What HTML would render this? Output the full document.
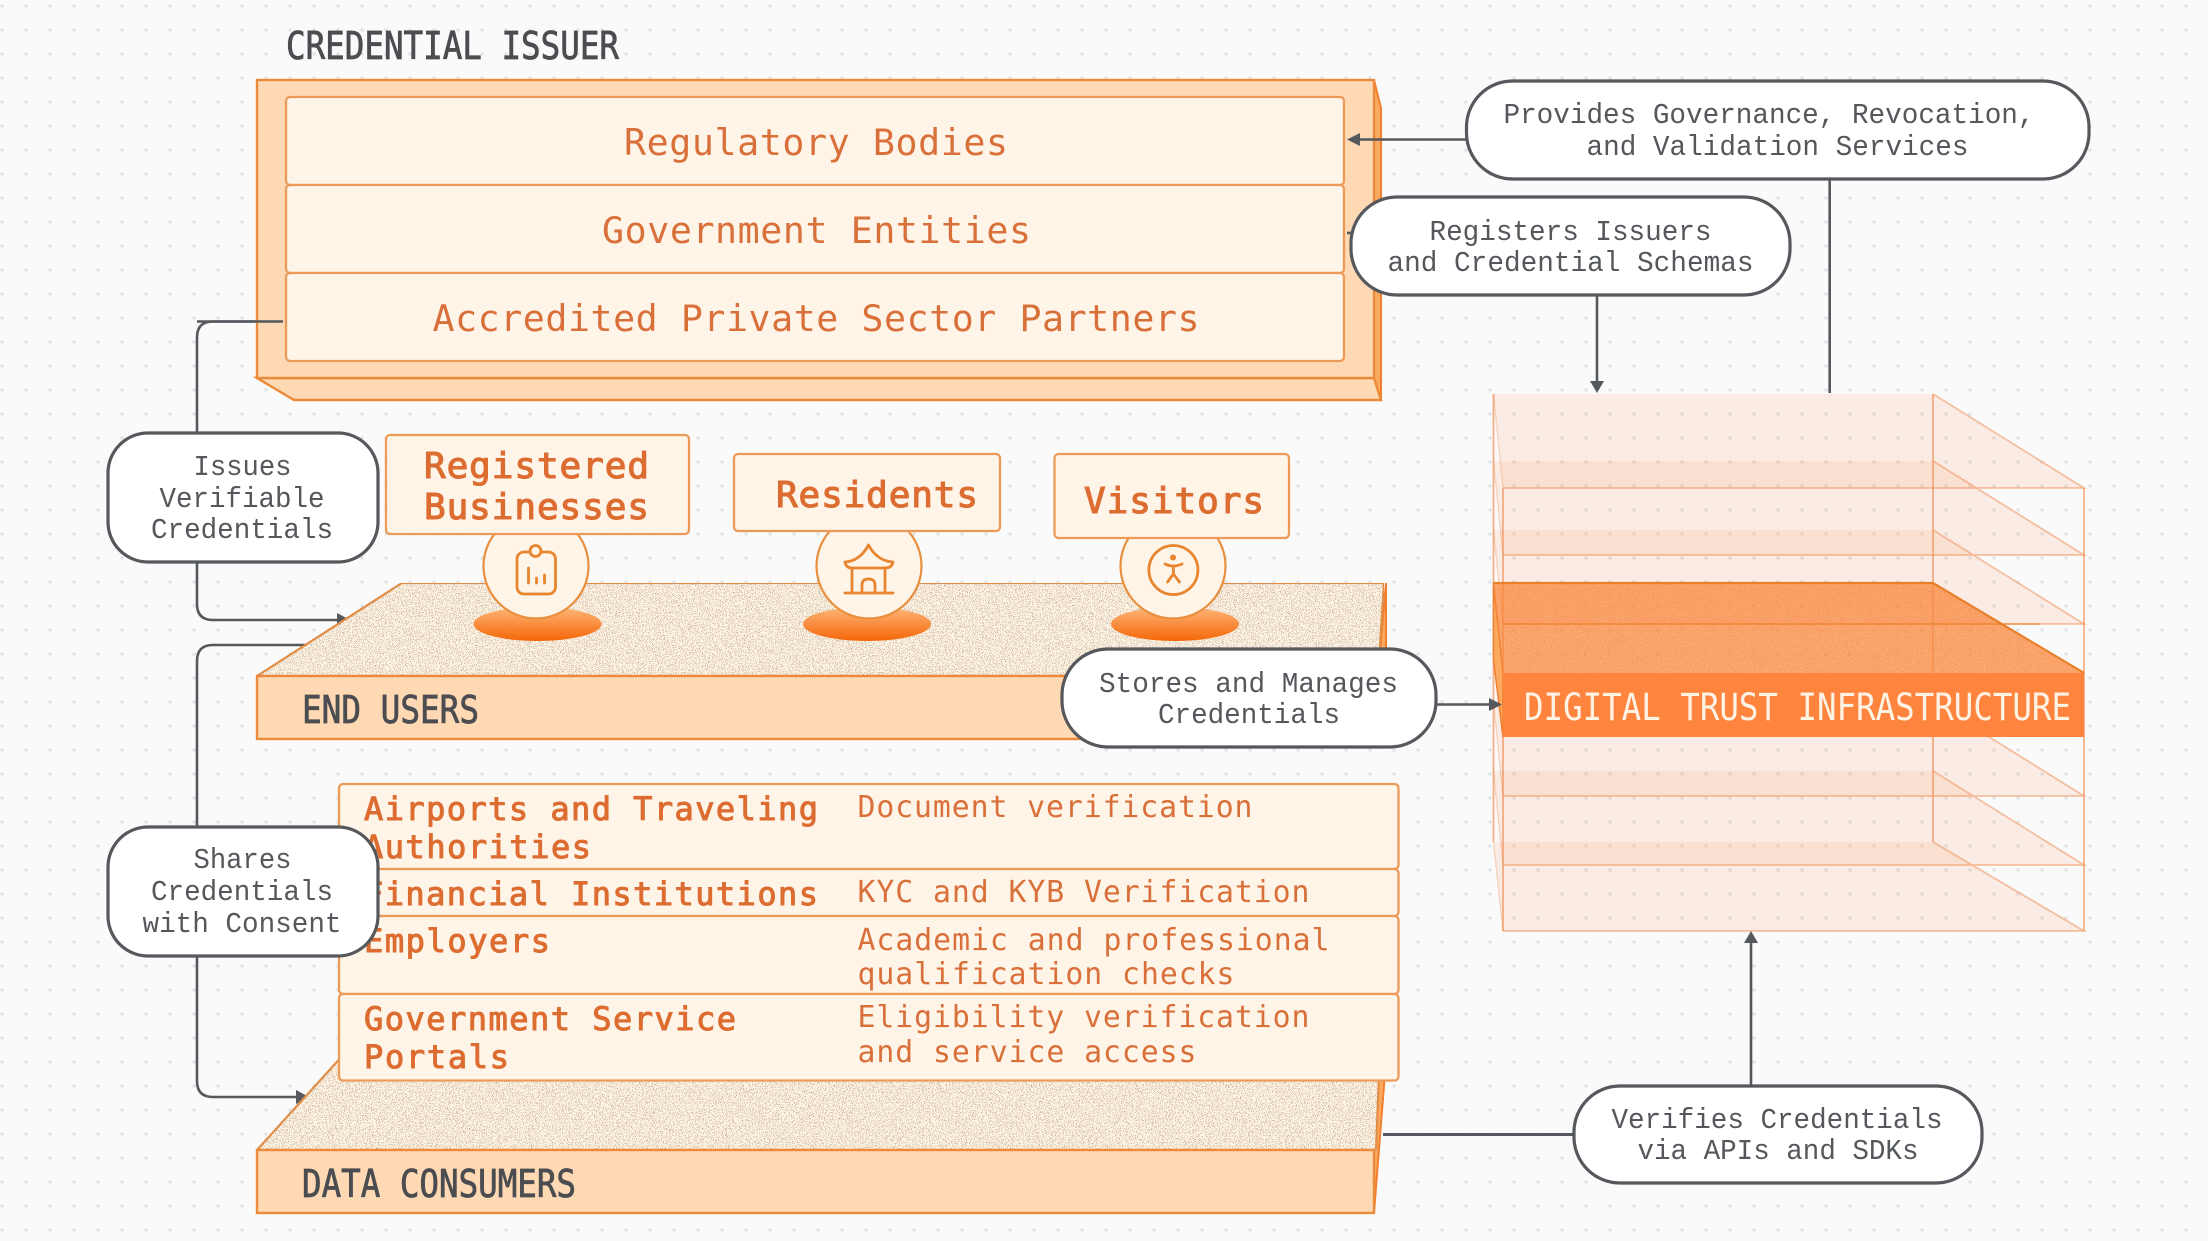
<!DOCTYPE html>
<html><head><meta charset="utf-8"><title>Digital Trust Infrastructure</title>
<style>
html,body{margin:0;padding:0;background:#fafafa}
svg{display:block}
text{white-space:pre}
.h{font-family:"DejaVu Sans Mono","Liberation Mono",monospace;font-size:38.4px;fill:#4b4d51;stroke:#4b4d51;stroke-width:.8px}
.r{font-family:"DejaVu Sans Mono","Liberation Mono",monospace;font-size:36.6px;fill:#d9703a}
.b{font-family:"DejaVu Sans Mono","Liberation Mono",monospace;font-size:36px;fill:#dc6c30;stroke:#dc6c30;stroke-width:1.1px}
.l{font-family:"DejaVu Sans Mono","Liberation Mono",monospace;font-size:32px;fill:#dc6c30;stroke:#dc6c30;stroke-width:1px}
.d{font-family:"DejaVu Sans Mono","Liberation Mono",monospace;font-size:29.8px;fill:#d9703a}
.c{font-family:"Liberation Mono",monospace;font-size:28.4px;fill:#54575b}
.w{font-family:"DejaVu Sans Mono","Liberation Mono",monospace;font-size:37px;fill:#fff3e6}
.pill{fill:#fff;stroke:#55585c;stroke-width:3.2}
.ln{fill:none;stroke:#55585c;stroke-width:2.6}
.ah{fill:#55585c}
.cell{fill:#fff4e8;stroke:#ec9a58;stroke-width:2.3}
.front{fill:#fed9b4;stroke:#ea8a3a;stroke-width:2.4}
.side{fill:#fbaa60;stroke:#f08030;stroke-width:2}
.lay{fill:#ff8a4c;fill-opacity:.12;stroke:none}
.edge{fill:none;stroke:#f0925a;stroke-opacity:.7;stroke-width:1.8}
.icn{fill:none;stroke:#e8852f;stroke-width:2.8;stroke-linecap:round;stroke-linejoin:round}
.circ{fill:#fff4e8;stroke:#e89040;stroke-width:2.2}
</style></head>
<body>
<svg xmlns="http://www.w3.org/2000/svg" width="2208" height="1241" viewBox="0 0 2208 1241">
<defs>
<pattern id="dots" x="0" y="0" width="24" height="24" patternUnits="userSpaceOnUse"><rect x="0.5" y="4.5" width="3" height="3" fill="#dfe1e4"/></pattern>
<filter id="noise" x="0" y="0" width="100%" height="100%" color-interpolation-filters="sRGB">
<feTurbulence type="fractalNoise" baseFrequency="1.3" numOctaves="1" seed="4" result="t"/>
<feColorMatrix in="t" type="matrix" values="0 0 0 0 .70  0 0 0 0 .62  0 0 0 0 .53  0 0 0 30 -17.6" result="n"/>
<feComposite in="n" in2="SourceAlpha" operator="in" result="c"/>
<feMerge><feMergeNode in="SourceGraphic"/><feMergeNode in="c"/></feMerge>
</filter>
<filter id="noise2" x="0" y="0" width="100%" height="100%" color-interpolation-filters="sRGB">
<feTurbulence type="fractalNoise" baseFrequency="1.1" numOctaves="1" seed="7" result="t"/>
<feColorMatrix in="t" type="matrix" values="0 0 0 0 .89  0 0 0 0 .50  0 0 0 0 .24  0 0 0 8 -4.6" result="n"/>
<feComposite in="n" in2="SourceAlpha" operator="in" result="c"/>
<feMerge><feMergeNode in="SourceGraphic"/><feMergeNode in="c"/></feMerge>
</filter>
<linearGradient id="sh" x1="0" y1="0" x2="0" y2="1"><stop offset="0" stop-color="#fdb678"/><stop offset="1" stop-color="#f56608"/></linearGradient>
</defs>
<rect width="2208" height="1241" fill="#fafafa"/>
<rect width="2208" height="1241" fill="url(#dots)"/>

<!-- connectors (below panels) -->
<path class="ln" d="M283 321.5H213Q197 321.5 197 337.5V604Q197 620 213 620H345"/>
<path class="ah" d="M337 613L350 620L337 627Z"/>
<path class="ln" d="M306 645H213Q197 645 197 661V1081Q197 1097 213 1097H300"/>
<path class="ah" d="M296 1090L309 1097L296 1104Z"/>

<!-- Credential issuer -->
<text class="h" x="286" y="59" textLength="333" lengthAdjust="spacingAndGlyphs">CREDENTIAL ISSUER</text>
<polygon class="side" points="1374,80 1381,108 1381,400 1374,378"/>
<polygon class="front" points="257,378 294,400 1381,400 1374,378"/>
<rect class="front" x="257" y="80" width="1117" height="298"/>
<rect class="cell" x="286" y="97" width="1058" height="88" rx="4"/>
<rect class="cell" x="286" y="185" width="1058" height="88" rx="4"/>
<rect class="cell" x="286" y="273" width="1058" height="88" rx="4"/>
<path class="ln" d="M197 321.5H283"/>
<text class="r" x="624" y="155" textLength="384">Regulatory Bodies</text>
<text class="r" x="602" y="243" textLength="429">Government Entities</text>
<text class="r" x="432.5" y="331" textLength="767">Accredited Private Sector Partners</text>

<!-- Infrastructure layers -->
<polygon class="lay" points="1493.5,394 1933,394 2084,488 1503,488"/>
<polygon class="lay" points="1493.5,461 1933,461 2084,555 1503,555"/>
<polygon class="lay" points="1493.5,530 1933,530 2084,624 1503,624"/>
<polygon class="lay" points="1493.5,702 1933,702 2084,796 1503,796"/>
<polygon class="lay" points="1493.5,771 1933,771 2084,865 1503,865"/>
<polygon class="lay" points="1493.5,842 1933,842 2084,931 1503,931"/>
<path class="edge" d="M1493.5 394V842M1933 394V842M1503 488V931M2084 488V931"/>
<path class="edge" d="M1503 488H2084L1933 394M1503 555H2084L1933 461M1503 624H2084L1933 530M1503 796H2084L1933 702M1503 865H2084L1933 771M1503 931H2084L1933 842" style="stroke-opacity:.55"/>
<path d="M1493.5 394L1503 488M1493.5 461L1503 555M1493.5 530L1503 624M1493.5 702L1503 796M1493.5 771L1503 865M1493.5 842L1503 931" fill="none" stroke="#f0925a" stroke-opacity=".3" stroke-width="1.5"/>
<polygon points="1493.5,583 1503,673 1503,737 1493.5,660" fill="#fbaa60" stroke="#f08030" stroke-width="1.5"/>
<polygon points="1493.5,583 1933,583 2084,673 1503,673" fill="#fc8a3e" fill-opacity=".74" filter="url(#noise2)"/>
<path d="M1493.5 583H1933L2084 673" fill="none" stroke="#e8802a" stroke-width="2.2"/>
<path d="M1503 624H2040" stroke="#e8802a" stroke-opacity=".6" stroke-width="1.6"/>
<rect x="1503" y="673" width="581" height="64" fill="#ff853e"/>
<text class="w" x="1524" y="720" textLength="547" lengthAdjust="spacingAndGlyphs">DIGITAL TRUST INFRASTRUCTURE</text>

<!-- End users -->
<polygon class="side" points="1386,583 1378,676 1386,676"/>
<polygon points="257,676 402,583 1384,583 1378,676" fill="#fff3e3" stroke="#ea8a3a" stroke-width="2.2" filter="url(#noise)"/>
<rect class="front" x="257" y="676" width="1121" height="63"/>
<text class="h" x="302" y="723" textLength="177" lengthAdjust="spacingAndGlyphs">END USERS</text>

<!-- shadows + circles + icons -->
<ellipse cx="537.5" cy="624" rx="64" ry="17" fill="url(#sh)"/>
<ellipse cx="867" cy="624" rx="64" ry="17" fill="url(#sh)"/>
<ellipse cx="1175" cy="624" rx="64" ry="17" fill="url(#sh)"/>
<circle class="circ" cx="536" cy="566" r="52.5"/>
<circle class="circ" cx="869" cy="566" r="52.5"/>
<circle class="circ" cx="1173" cy="566" r="52.5"/>
<g class="icn">
<rect x="517" y="552" width="38.5" height="42" rx="7"/>
<circle cx="535.5" cy="551" r="5.5" fill="#fff4e8"/>
<path d="M528.5 568V583M536.5 578V583M544.5 575V583"/>
<path d="M845 562Q860 561 868.5 545Q877 561 893 562Q892 568 885 568H852Q846 568 845 562Z"/>
<path d="M852 568V593M885 568V593M845 593H893M862 593V585Q862 579 868.5 579Q875 579 875 585V593"/>
<circle cx="1173.4" cy="570" r="24.5"/>
<path d="M1165 564Q1173 568 1182 564M1173.4 566V574M1173.4 574L1167.5 582M1173.4 574L1179.5 582"/>
<circle cx="1173" cy="557.5" r="1.6" fill="#e8852f"/>
</g>
<rect class="cell" x="386" y="435" width="303" height="99" rx="4"/>
<rect class="cell" x="734" y="454" width="266" height="77" rx="4"/>
<rect class="cell" x="1054.5" y="454" width="234.5" height="84" rx="4"/>
<text class="b" x="424" y="478" textLength="225">Registered</text>
<text class="b" x="424" y="519" textLength="225">Businesses</text>
<text class="b" x="776" y="507" textLength="202">Residents</text>
<text class="b" x="1084" y="513" textLength="180">Visitors</text>

<!-- Data consumers -->
<polygon class="side" points="1386,1060 1374,1213 1374,1060"/>
<polygon points="257,1150 393,1000 1382,1000 1376,1150" fill="#fff3e3" stroke="#ea8a3a" stroke-width="2.2" filter="url(#noise)"/>
<rect class="front" x="257" y="1150" width="1117" height="63"/>
<text class="h" x="302" y="1197" textLength="274" lengthAdjust="spacingAndGlyphs">DATA CONSUMERS</text>
<rect class="cell" x="339" y="784" width="1059.5" height="85" rx="4"/>
<rect class="cell" x="339" y="869" width="1059.5" height="47" rx="4"/>
<rect class="cell" x="339" y="916" width="1059.5" height="78" rx="4"/>
<rect class="cell" x="339" y="994" width="1059.5" height="86.5" rx="4"/>
<text class="l" x="364" y="820" textLength="454">Airports and Traveling</text>
<text class="l" x="364" y="858" textLength="227">Authorities</text>
<text class="l" x="364" y="905" textLength="454">Financial Institutions</text>
<text class="l" x="364" y="952" textLength="186">Employers</text>
<text class="l" x="364" y="1030" textLength="372">Government Service</text>
<text class="l" x="364" y="1068" textLength="145">Portals</text>
<text class="d" x="857.5" y="817" textLength="395">Document verification</text>
<text class="d" x="857.5" y="902" textLength="452">KYC and KYB Verification</text>
<text class="d" x="857.5" y="950" textLength="472">Academic and professional</text>
<text class="d" x="857.5" y="984" textLength="377">qualification checks</text>
<text class="d" x="857.5" y="1027" textLength="452">Eligibility verification</text>
<text class="d" x="857.5" y="1062" textLength="339">and service access</text>

<!-- right connectors -->
<path class="ln" d="M1466 139.5H1356"/>
<path class="ah" d="M1347 139.5L1360 133V146Z"/>
<path class="ln" d="M1352 233H1347"/>
<path class="ln" d="M1597 295V384"/>
<path class="ah" d="M1597 393L1590 381H1604Z"/>
<path class="ln" d="M1829.7 179V393"/>
<path class="ln" d="M1436 704.5H1492"/>
<path class="ah" d="M1502 704.5L1489 698V711Z"/>
<path class="ln" d="M1383 1134.5H1574" style="stroke-width:3"/>
<path class="ln" d="M1751 1085V941"/>
<path class="ah" d="M1751 931L1744 943H1758Z"/>

<!-- callouts -->
<rect class="pill" x="1466.5" y="81" width="622.5" height="98" rx="46"/>
<text class="c" x="1503.5" y="123" textLength="531" lengthAdjust="spacingAndGlyphs">Provides Governance, Revocation,</text>
<text class="c" x="1586.5" y="155" textLength="382" lengthAdjust="spacingAndGlyphs">and Validation Services</text>

<rect class="pill" x="1351" y="197" width="439" height="98" rx="46"/>
<text class="c" x="1429.5" y="240" textLength="282" lengthAdjust="spacingAndGlyphs">Registers Issuers</text>
<text class="c" x="1387.5" y="271" textLength="366" lengthAdjust="spacingAndGlyphs">and Credential Schemas</text>

<rect class="pill" x="108" y="433" width="270" height="129" rx="40"/>
<text class="c" x="193.5" y="475" textLength="98" lengthAdjust="spacingAndGlyphs">Issues</text>
<text class="c" x="159.5" y="507" textLength="165" lengthAdjust="spacingAndGlyphs">Verifiable</text>
<text class="c" x="151" y="538" textLength="182" lengthAdjust="spacingAndGlyphs">Credentials</text>

<rect class="pill" x="1062" y="649" width="374" height="98" rx="46"/>
<text class="c" x="1099" y="692" textLength="299" lengthAdjust="spacingAndGlyphs">Stores and Manages</text>
<text class="c" x="1158" y="723" textLength="182" lengthAdjust="spacingAndGlyphs">Credentials</text>

<rect class="pill" x="108" y="827" width="270" height="129" rx="40"/>
<text class="c" x="193.5" y="868" textLength="98" lengthAdjust="spacingAndGlyphs">Shares</text>
<text class="c" x="151" y="900" textLength="182" lengthAdjust="spacingAndGlyphs">Credentials</text>
<text class="c" x="142.5" y="932" textLength="199" lengthAdjust="spacingAndGlyphs">with Consent</text>

<rect class="pill" x="1574" y="1086" width="408" height="97" rx="46"/>
<text class="c" x="1611.5" y="1128" textLength="331" lengthAdjust="spacingAndGlyphs">Verifies Credentials</text>
<text class="c" x="1637.5" y="1159" textLength="281" lengthAdjust="spacingAndGlyphs">via APIs and SDKs</text>
</svg>
</body></html>
